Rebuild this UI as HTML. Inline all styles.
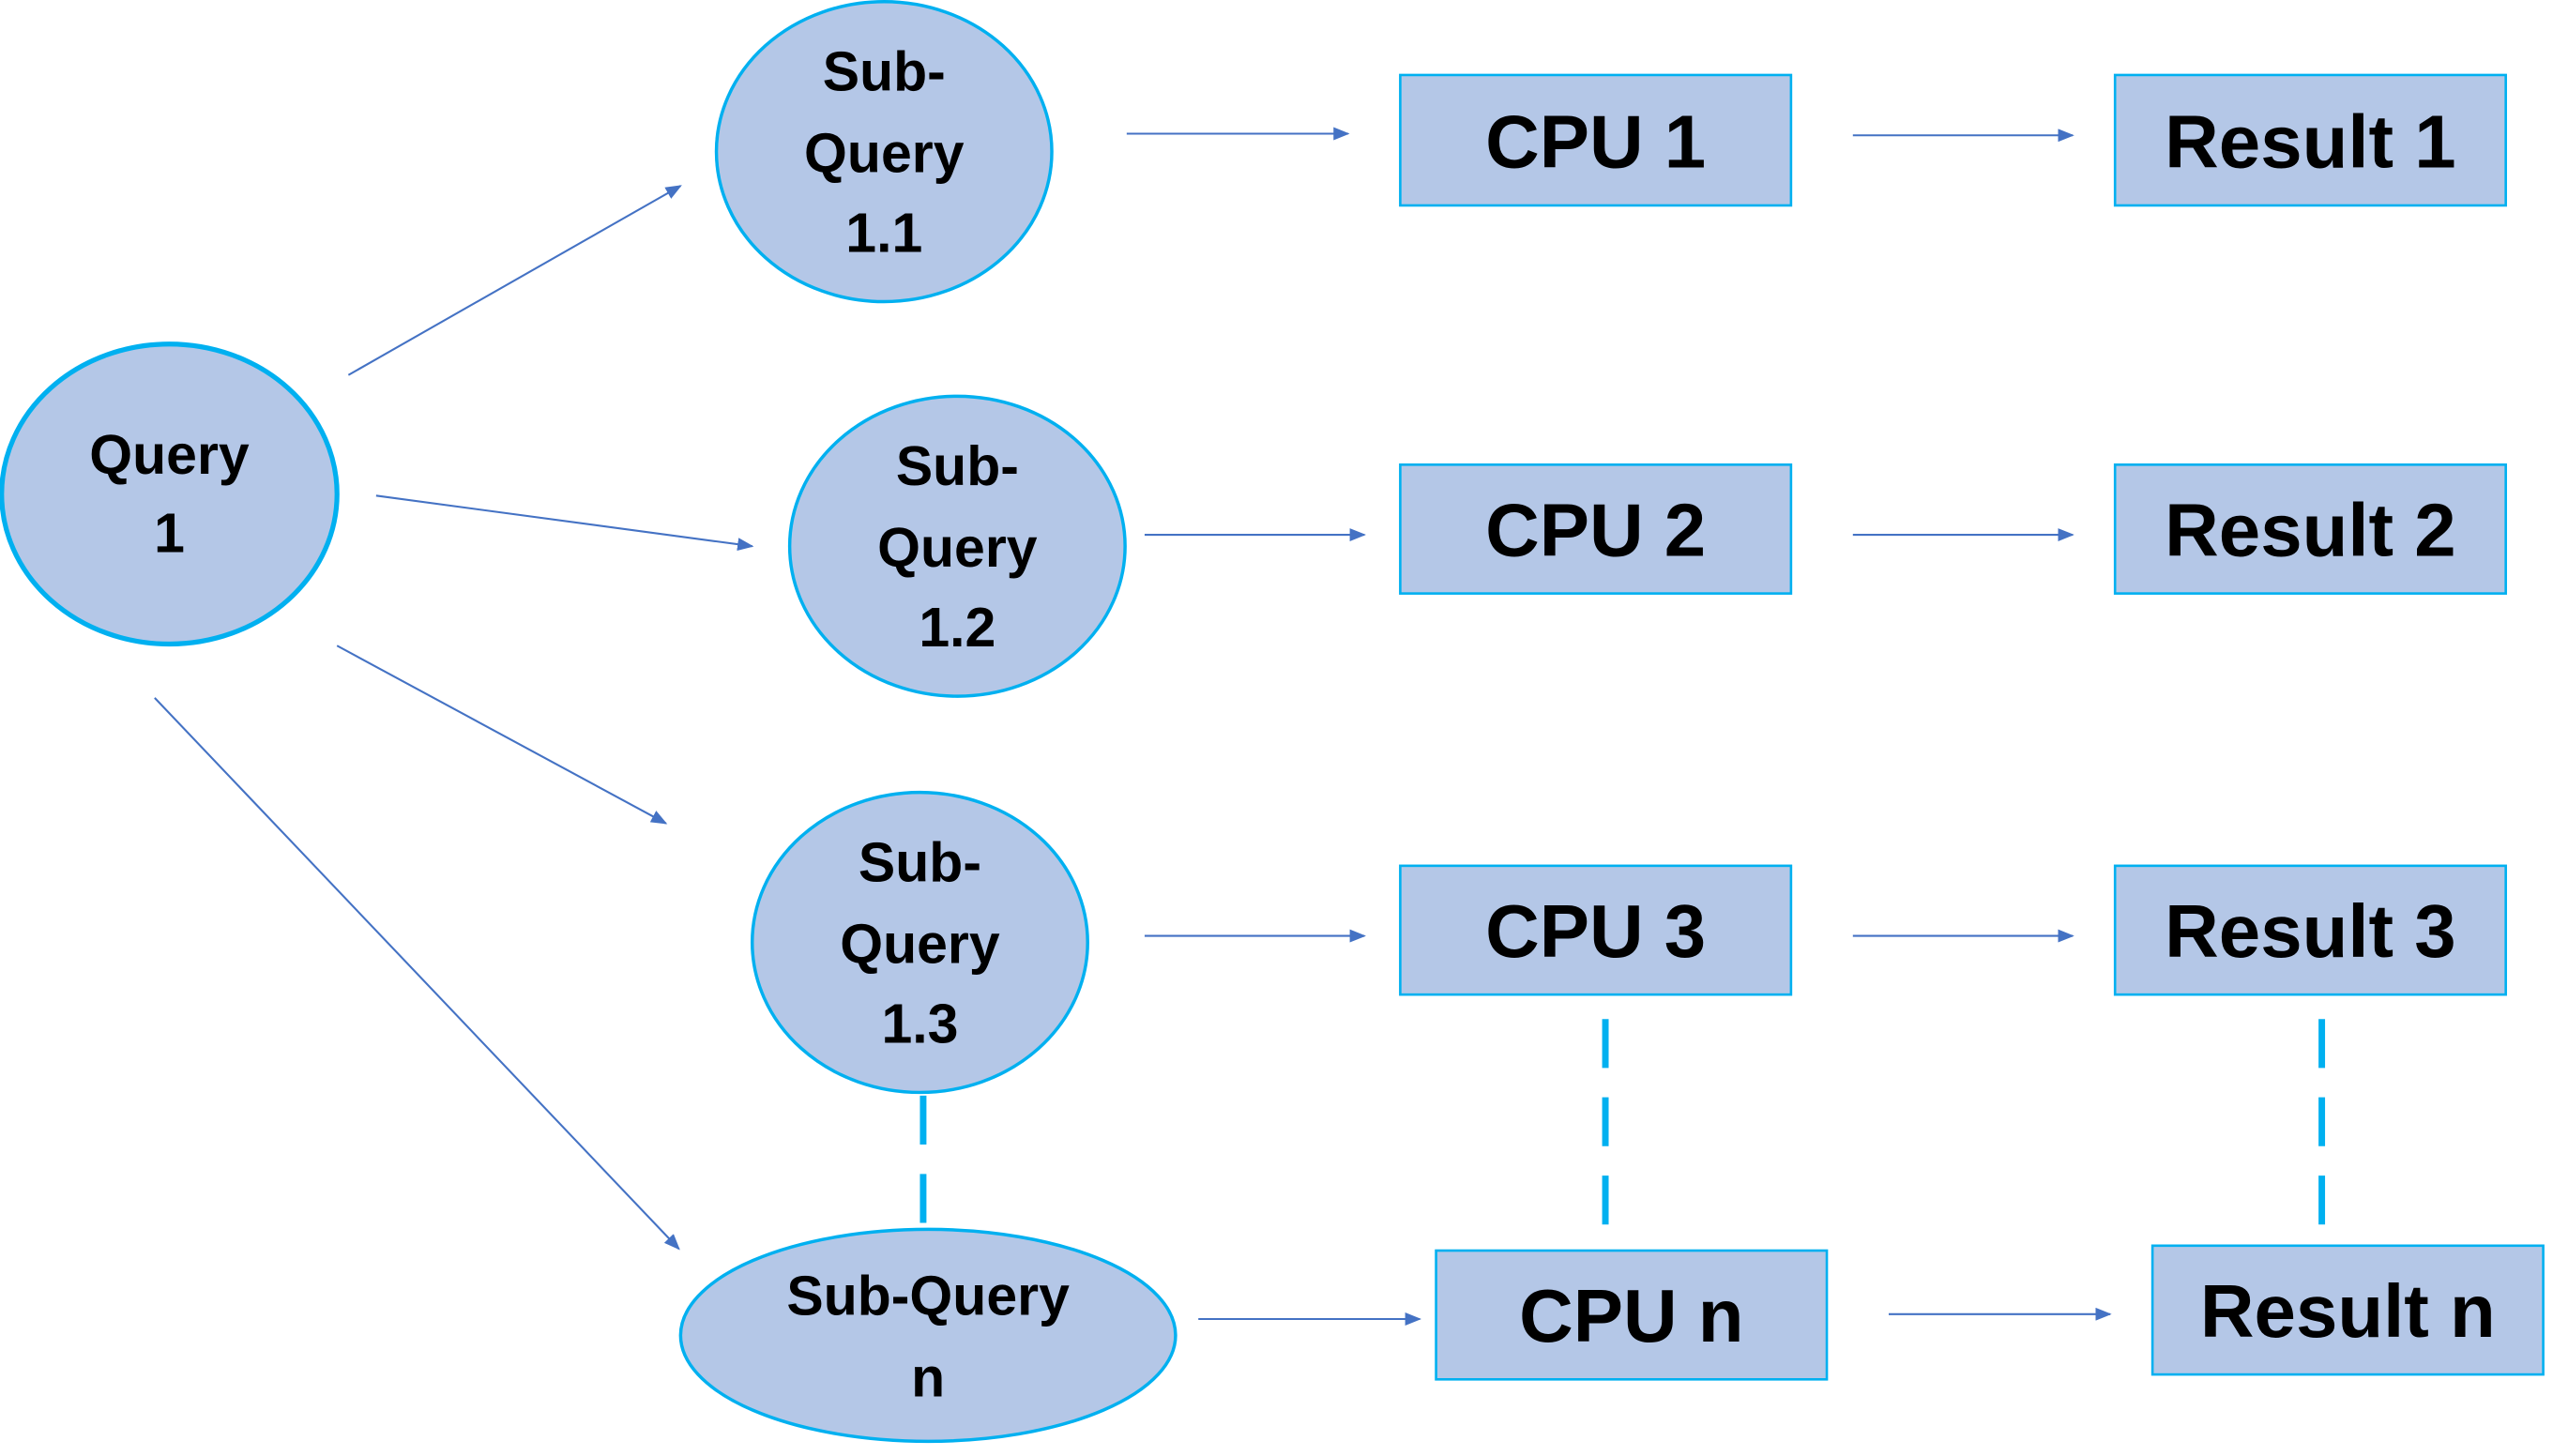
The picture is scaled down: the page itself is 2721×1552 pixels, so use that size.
<!DOCTYPE html>
<html><head><meta charset="utf-8"><style>
html,body{margin:0;padding:0;background:#fff;}
svg{display:block;}
text{font-family:"Liberation Sans",sans-serif;font-weight:bold;fill:#000;text-anchor:middle;dominant-baseline:central;}
</style></head><body>
<svg width="2721" height="1552" viewBox="0 0 1568 893" preserveAspectRatio="none" xmlns="http://www.w3.org/2000/svg">
<defs><marker id="a" markerWidth="10" markerHeight="8" refX="9" refY="4" orient="auto" markerUnits="userSpaceOnUse"><path d="M0,0 L10,4 L0,8 z" fill="#4472c4"/></marker></defs>
<g fill="#b4c7e7" stroke="#00b0f0" stroke-width="2">
<ellipse cx="104" cy="303" rx="103" ry="92" stroke-width="3"/>
<ellipse cx="543" cy="93" rx="103" ry="92"/>
<ellipse cx="588" cy="335" rx="103" ry="92"/>
<ellipse cx="565" cy="578" rx="103" ry="92"/>
<ellipse cx="570" cy="819" rx="152" ry="65"/>
<rect x="860" y="46" width="240" height="80" stroke-width="1.5"/>
<rect x="860" y="285" width="240" height="79" stroke-width="1.5"/>
<rect x="860" y="531" width="240" height="79" stroke-width="1.5"/>
<rect x="882" y="767" width="240" height="79" stroke-width="1.5"/>
<rect x="1299" y="46" width="240" height="80" stroke-width="1.5"/>
<rect x="1299" y="285" width="240" height="79" stroke-width="1.5"/>
<rect x="1299" y="531" width="240" height="79" stroke-width="1.5"/>
<rect x="1322" y="764" width="240" height="79" stroke-width="1.5"/>
</g>
<g stroke="#4472c4" stroke-width="1.2" marker-end="url(#a)">
<line x1="214" y1="230" x2="418" y2="114"/>
<line x1="231" y1="304" x2="462" y2="335"/>
<line x1="207" y1="396" x2="409" y2="505"/>
<line x1="95" y1="428" x2="417" y2="766"/>
<line x1="692" y1="82" x2="828" y2="82"/>
<line x1="703" y1="328" x2="838" y2="328"/>
<line x1="703" y1="574" x2="838" y2="574"/>
<line x1="736" y1="809" x2="872" y2="809"/>
<line x1="1138" y1="83" x2="1273" y2="83"/>
<line x1="1138" y1="328" x2="1273" y2="328"/>
<line x1="1138" y1="574" x2="1273" y2="574"/>
<line x1="1160" y1="806" x2="1296" y2="806"/>
</g>
<g stroke="#00b0f0" stroke-width="4" stroke-dasharray="30 18">
<line x1="567" y1="672" x2="567" y2="753"/>
<line x1="986" y1="625" x2="986" y2="753"/>
<line x1="1426" y1="625" x2="1426" y2="753"/>
</g>
<g font-size="34">
<text x="104" y="279">Query</text><text x="104" y="327">1</text>
<text x="543" y="44">Sub-</text><text x="543" y="94">Query</text><text x="543" y="143">1.1</text>
<text x="588" y="286">Sub-</text><text x="588" y="336">Query</text><text x="588" y="385">1.2</text>
<text x="565" y="529">Sub-</text><text x="565" y="579">Query</text><text x="565" y="628">1.3</text>
<text x="570" y="795">Sub-Query</text><text x="570" y="845">n</text>
</g>
<g font-size="46">
<text x="980" y="87">CPU 1</text>
<text x="980" y="325">CPU 2</text>
<text x="980" y="571">CPU 3</text>
<text x="1002" y="807">CPU n</text>
<text x="1419" y="87">Result 1</text>
<text x="1419" y="325">Result 2</text>
<text x="1419" y="571">Result 3</text>
<text x="1442" y="804">Result n</text>
</g>
</svg>
</body></html>
